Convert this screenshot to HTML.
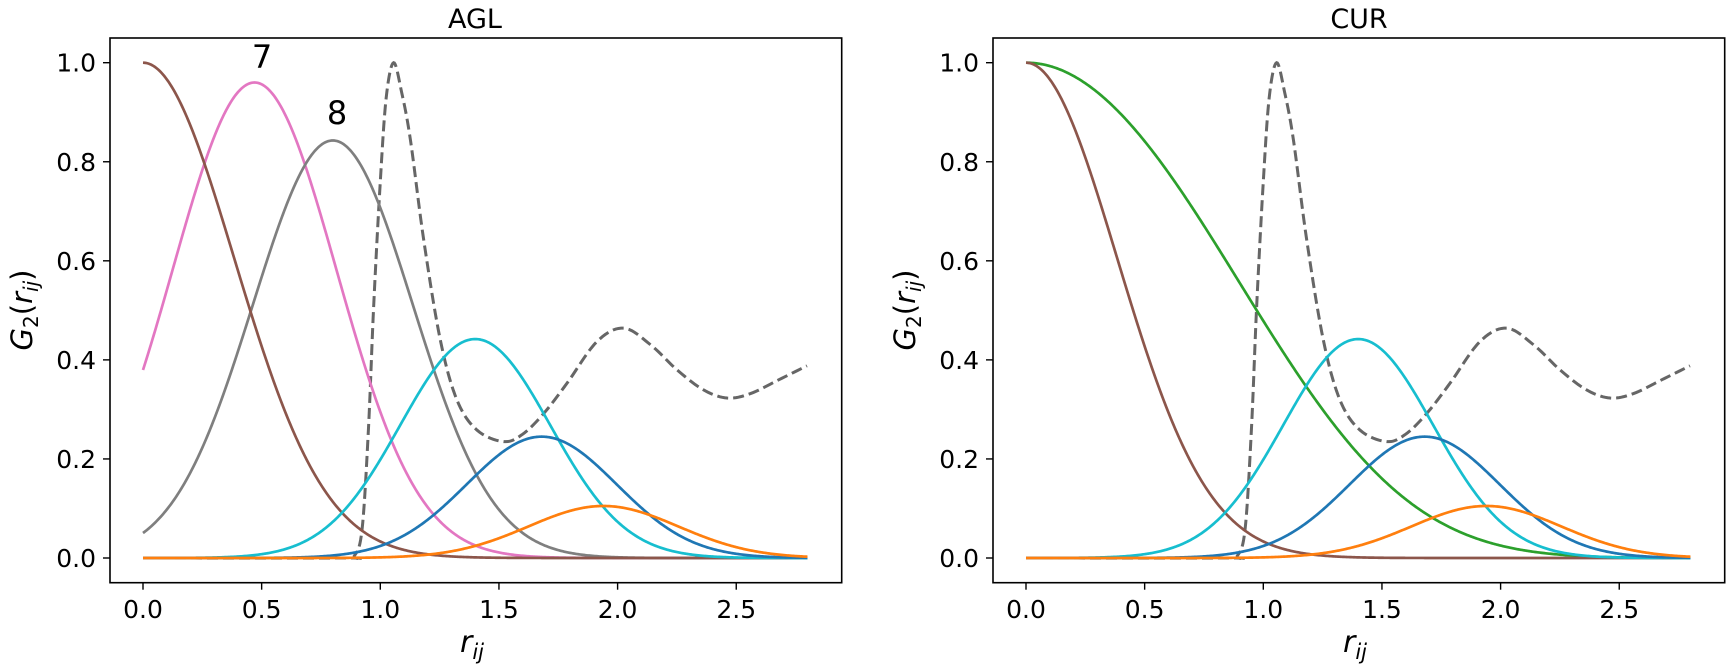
<!DOCTYPE html>
<html><head><meta charset="utf-8"><style>
html,body{margin:0;padding:0;background:#fff;}
svg{display:block;font-family:"DejaVu Sans","Liberation Sans",sans-serif;}
.t24{font-size:24px;}
.t27{font-size:27px;}
.t32{font-size:32px;}
</style></head><body>
<svg id="s" width="1726" height="666" viewBox="0 0 1726 666" xmlns="http://www.w3.org/2000/svg">
<rect width="1726" height="666" fill="#fff"/>
<g id="plots"></g>
<g fill="#000">
<text x="475" y="28" style="font-size:27px" text-anchor="middle">AGL</text>
<text x="1359" y="28" style="font-size:27px" text-anchor="middle">CUR</text>
<text x="262" y="68" style="font-size:32px" text-anchor="middle">7</text>
<text x="337" y="124" style="font-size:32px" text-anchor="middle">8</text>
</g>
<g id="axes"></g>
</svg>
<script>
const NS="http://www.w3.org/2000/svg";
const plots=document.getElementById('plots'), axes=document.getElementById('axes');
function el(p,tag,a,txt){const e=document.createElementNS(NS,tag);for(const k in a)e.setAttribute(k,a[k]);if(txt!==undefined)e.textContent=txt;p.appendChild(e);return e;}
const g=(A,rs,eta)=>r=>A*Math.exp(-eta*(r-rs)*(r-rs));
const brown=r=>Math.exp(-3.4*r*r);
const pink=g(0.96,0.47,4.2), gray=g(0.843,0.8,4.4), cyan=g(0.442,1.4,5), blue=g(0.245,1.68,5), orange=g(0.105,1.94,5);
const green=r=>Math.exp(-0.675*r*r-0.0616*r*r*r*r);
const dpts=[[0,0],[0.85,0],[0.89,0.004],[0.923,0.057],[0.95,0.26],[0.972,0.508],[1.0,0.76],[1.025,0.93],[1.056,1.0],[1.09,0.94],[1.127,0.844],[1.183,0.642],[1.253,0.44],[1.323,0.319],[1.408,0.258],[1.52,0.235],[1.6,0.25],[1.689,0.292],[1.787,0.353],[1.913,0.437],[2.026,0.464],[2.14,0.43],[2.25,0.38],[2.36,0.34],[2.461,0.323],[2.56,0.332],[2.68,0.36],[2.798,0.388]];
function crPath(pts,X,Y){let d=`M${X(pts[0][0])},${Y(pts[0][1])}`;for(let i=0;i<pts.length-1;i++){const p0=pts[Math.max(0,i-1)],p1=pts[i],p2=pts[i+1],p3=pts[Math.min(pts.length-1,i+2)];for(let t=0.1;t<=1.0001;t+=0.1){const t2=t*t,t3=t2*t;const f=k=>0.5*((2*p1[k])+(-p0[k]+p2[k])*t+(2*p0[k]-5*p1[k]+4*p2[k]-p3[k])*t2+(-p0[k]+3*p1[k]-3*p2[k]+p3[k])*t3);d+=`L${X(f(0)).toFixed(2)},${Y(f(1)).toFixed(2)}`;}}return d;}
function fpath(f,X,Y){let d='';for(let i=0;i<=560;i++){const r=2.8*i/560;d+=(i?'L':'M')+X(r).toFixed(2)+','+Y(f(r)).toFixed(2);}return d;}
function panel(L,curves){
 const x0=L+33,X=r=>x0+237.3*r,Y=v=>558-495.3*v;
 const cg=el(plots,'g',{});
 el(cg,'path',{d:crPath(dpts,X,Y),fill:'none',stroke:'#666','stroke-width':3,'stroke-dasharray':'11,5'});
 for(const [f,c] of curves) el(cg,'path',{d:fpath(f,X,Y),fill:'none',stroke:c,'stroke-width':2.7});
 el(axes,'rect',{x:L,y:38,width:731.7,height:544.7,fill:'none',stroke:'#000','stroke-width':1.6});
 for(let i=0;i<=5;i++){const v=i*0.2,y=Y(v);el(axes,'line',{x1:L-7,x2:L,y1:y,y2:y,stroke:'#000','stroke-width':1.4});el(axes,'text',{x:L-14,y:y+9,style:'font-size:25px','text-anchor':'end'},v.toFixed(1));}
 for(let i=0;i<=5;i++){const r=i*0.5,x=X(r);el(axes,'line',{x1:x,x2:x,y1:582.7,y2:589.7,stroke:'#000','stroke-width':1.4});el(axes,'text',{x:x,y:618,style:'font-size:25px','text-anchor':'middle'},r.toFixed(1));}
 const xl=el(axes,'text',{x:L+362,y:652,style:'font-size:30px;font-style:italic','text-anchor':'middle'},'r');
 el(xl,'tspan',{style:'font-size:21px',dy:7},'ij');
 const yl=el(axes,'text',{transform:`translate(${L-78},310) rotate(-90)`,style:'font-size:29px','text-anchor':'middle'});
 el(yl,'tspan',{style:'font-style:italic'},'G');el(yl,'tspan',{style:'font-size:20px',dy:6},'2');el(yl,'tspan',{dy:-6},'(');el(yl,'tspan',{style:'font-style:italic'},'r');el(yl,'tspan',{style:'font-size:20px;font-style:italic',dy:6},'ij');el(yl,'tspan',{dy:-6},')');
}
panel(110,[[pink,'#e377c2'],[gray,'#7f7f7f'],[brown,'#8c564b'],[cyan,'#17becf'],[blue,'#1f77b4'],[orange,'#ff7f0e']]);
panel(993,[[green,'#2ca02c'],[brown,'#8c564b'],[cyan,'#17becf'],[blue,'#1f77b4'],[orange,'#ff7f0e']]);
</script>
</body></html>
